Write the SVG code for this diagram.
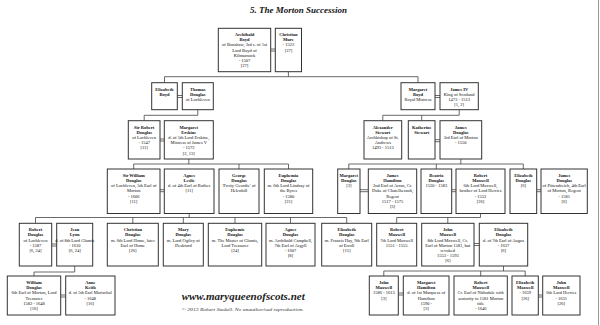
<svg xmlns="http://www.w3.org/2000/svg" width="600" height="325" viewBox="0 0 600 325">
<style>
.nd rect{fill:#fff;stroke:#333;stroke-width:1}
text{font-family:"Liberation Serif","Times New Roman",serif;font-size:4.5px;text-anchor:middle;fill:#111}
.n{font-weight:bold}
.c path{fill:none;stroke:#444;stroke-width:0.8}
.title{font-size:9px;font-weight:bold;font-style:italic;text-anchor:start}
.web{font-size:11px;font-weight:bold;font-style:italic;text-anchor:start;fill:#222}
.copy{font-size:5px;font-style:italic;text-anchor:start;fill:#333}
</style>
<rect width="600" height="325" fill="#fff"/>
<line x1="598.5" y1="0" x2="598.5" y2="325" stroke="#999" stroke-width="1"/>
<text class="title" x="250" y="13">5.  The Morton Succession</text>

<g class="c">
<path d="M288.4 71.7V76.7M164.5 82.7V76.7H418V82.7"/>
<path d="M197.8 109.7V115.3H144.2V120.7"/>
<path d="M188.8 159V164M133.7 169V164H288.5V169M239 164V169"/>
<path d="M189.2 213.5V217.5M35.5 223.3V217.5H346.7V223.3M132.8 217.5V223.3M183.3 217.5V223.3M235 217.5V223.3M290.5 217.5V223.3"/>
<path d="M74.7 266V272H34V276"/>
<path d="M459.2 109.7V115.3H382.8V120.7M421.7 115.3V120.7"/>
<path d="M460.8 159V164M348.8 169V164H523.3V169M436.3 164V169"/>
<path d="M480.5 213.5V217.5H396.7V223.3M447.8 217.5V223.3"/>
<path d="M503.5 266V271M383.8 276V271H525.2V276M480.7 271V276"/>
<path d="M270.7 49H275.3M270.7 51H275.3"/>
<path d="M177.3 95.5H182.3M177.3 97.5H182.3"/>
<path d="M435 95.5H440M435 97.5H440"/>
<path d="M160 139H164.3M160 141H164.3"/>
<path d="M435 139.7H440M435 141.7H440"/>
<path d="M160 189.7H164.3M160 191.7H164.3"/>
<path d="M360 189.7H368.3M360 191.7H368.3"/>
<path d="M451.7 189.7H456M451.7 191.7H456"/>
<path d="M536.7 189.7H541M536.7 191.7H541"/>
<path d="M51.7 244H56.7M51.7 246H56.7"/>
<path d="M474 243.5H479.3M474 245.5H479.3"/>
<path d="M60.7 295H65.7M60.7 297H65.7"/>
<path d="M398.3 293H403.3M398.3 295H403.3"/>
<path d="M538.3 295H542.7M538.3 297H542.7"/>
</g>

<g id="archibald-boyd" class="nd"><rect x="218.3" y="28.3" width="52.4" height="43.4"/>
<text y="36"><tspan class="n" x="244.5">Archibald</tspan><tspan class="n" x="244.5" dy="5.2">Boyd</tspan><tspan x="244.5" dy="5.2">of Bonshaw, 3rd s. of 1st</tspan><tspan x="244.5" dy="5.2">Lord Boyd of</tspan><tspan x="244.5" dy="5.2">Kilmarnock</tspan><tspan x="244.5" dy="5.2">- 1507</tspan><tspan x="244.5" dy="5.2">[27]</tspan></text></g>
<g id="christian-mure" class="nd"><rect x="275.3" y="28.3" width="26.2" height="43.4"/>
<text y="36"><tspan class="n" x="288.4">Christian</tspan><tspan class="n" x="288.4" dy="5.2">Mure</tspan><tspan x="288.4" dy="5.2">- 1523</tspan><tspan x="288.4" dy="5.2">[27]</tspan></text></g>

<g id="elizabeth-boyd" class="nd"><rect x="151.7" y="82.7" width="25.6" height="27"/>
<text y="90.5"><tspan class="n" x="164.5">Elizabeth</tspan><tspan class="n" x="164.5" dy="5.2">Boyd</tspan></text></g>
<g id="thomas-douglas" class="nd"><rect x="182.3" y="82.7" width="31" height="27"/>
<text y="90.5"><tspan class="n" x="197.8">Thomas</tspan><tspan class="n" x="197.8" dy="5.2">Douglas</tspan><tspan x="197.8" dy="5.2">of Lochleven</tspan></text></g>
<g id="margaret-boyd" class="nd"><rect x="401" y="82.7" width="34" height="27"/>
<text y="90.5"><tspan class="n" x="418">Margaret</tspan><tspan class="n" x="418" dy="5.2">Boyd</tspan><tspan x="418" dy="5.2">Royal Mistress</tspan></text></g>
<g id="james-iv" class="nd"><rect x="440" y="82.7" width="38.3" height="27"/>
<text y="90.5"><tspan class="n" x="459.2">James IV</tspan><tspan x="459.2" dy="5.2">King of Scotland</tspan><tspan x="459.2" dy="5.2">1473 - 1513</tspan><tspan x="459.2" dy="5.2">[1, 2]</tspan></text></g>

<g id="sir-robert-douglas" class="nd"><rect x="128.3" y="120.7" width="31.7" height="38.3"/>
<text y="128.6"><tspan class="n" x="144.2">Sir Robert</tspan><tspan class="n" x="144.2" dy="5.2">Douglas</tspan><tspan x="144.2" dy="5.2">of Lochleven</tspan><tspan x="144.2" dy="5.2">- 1547</tspan><tspan x="144.2" dy="5.2">[11]</tspan></text></g>
<g id="margaret-erskine" class="nd"><rect x="164.3" y="120.7" width="49" height="38.3"/>
<text y="128.6"><tspan class="n" x="188.8">Margaret</tspan><tspan class="n" x="188.8" dy="5.2">Erskine</tspan><tspan x="188.8" dy="5.2">d. of 5th Lord Erskine,</tspan><tspan x="188.8" dy="5.2">Mistress of James V</tspan><tspan x="188.8" dy="5.2">- 1572</tspan><tspan x="188.8" dy="5.2">[2, 13]</tspan></text></g>
<g id="alexander-stewart" class="nd"><rect x="364" y="120.7" width="37.7" height="38.3"/>
<text y="128.6"><tspan class="n" x="382.8">Alexander</tspan><tspan class="n" x="382.8" dy="5.2">Stewart</tspan><tspan x="382.8" dy="5.2">Archbishop of St.</tspan><tspan x="382.8" dy="5.2">Andrews</tspan><tspan x="382.8" dy="5.2">1493 - 1513</tspan></text></g>
<g id="katherine-stewart" class="nd"><rect x="408.3" y="120.7" width="26.7" height="38.3"/>
<text y="128.6"><tspan class="n" x="421.7">Katherine</tspan><tspan class="n" x="421.7" dy="5.2">Stewart</tspan></text></g>
<g id="james-douglas-3" class="nd"><rect x="440" y="120.7" width="41.7" height="38.3"/>
<text y="128.6"><tspan class="n" x="460.8">James</tspan><tspan class="n" x="460.8" dy="5.2">Douglas</tspan><tspan x="460.8" dy="5.2">3rd Earl of Morton</tspan><tspan x="460.8" dy="5.2">- 1550</tspan></text></g>

<g id="sir-william-douglas" class="nd"><rect x="107.3" y="169" width="52.7" height="44.5"/>
<text y="176.8"><tspan class="n" x="133.7">Sir William</tspan><tspan class="n" x="133.7" dy="5.2">Douglas</tspan><tspan x="133.7" dy="5.2">of Lochleven, 5th Earl of</tspan><tspan x="133.7" dy="5.2">Morton</tspan><tspan x="133.7" dy="5.2">- 1606</tspan><tspan x="133.7" dy="5.2">[11]</tspan></text></g>
<g id="agnes-leslie" class="nd"><rect x="164.3" y="169" width="49.7" height="44.5"/>
<text y="176.8"><tspan class="n" x="189.2">Agnes</tspan><tspan class="n" x="189.2" dy="5.2">Leslie</tspan><tspan x="189.2" dy="5.2">d. of 4th Earl of Rothes</tspan><tspan x="189.2" dy="5.2">[11]</tspan></text></g>
<g id="george-douglas" class="nd"><rect x="219" y="169" width="40" height="44.5"/>
<text y="176.8"><tspan class="n" x="239">George</tspan><tspan class="n" x="239" dy="5.2">Douglas</tspan><tspan x="239" dy="5.2">'Pretty Geordie' of</tspan><tspan x="239" dy="5.2">Helenhill</tspan></text></g>
<g id="euphemia-douglas" class="nd"><rect x="264.3" y="169" width="48.4" height="44.5"/>
<text y="176.8"><tspan class="n" x="288.5">Euphemia</tspan><tspan class="n" x="288.5" dy="5.2">Douglas</tspan><tspan x="288.5" dy="5.2">m. 6th Lord Lindsay of</tspan><tspan x="288.5" dy="5.2">the Byres</tspan><tspan x="288.5" dy="5.2">- 1580</tspan><tspan x="288.5" dy="5.2">[21]</tspan></text></g>
<g id="margaret-douglas" class="nd"><rect x="337.7" y="169" width="22.3" height="44.5"/>
<text y="176.8"><tspan class="n" x="348.8">Margaret</tspan><tspan class="n" x="348.8" dy="5.2">Douglas</tspan><tspan x="348.8" dy="5.2">[3]</tspan></text></g>
<g id="james-hamilton" class="nd"><rect x="368.3" y="169" width="48.4" height="44.5"/>
<text y="176.8"><tspan class="n" x="392.5">James</tspan><tspan class="n" x="392.5" dy="5.2">Hamilton</tspan><tspan x="392.5" dy="5.2">2nd Earl of Arran, Cr.</tspan><tspan x="392.5" dy="5.2">Duke of Chatelherault,</tspan><tspan x="392.5" dy="5.2">Regent</tspan><tspan x="392.5" dy="5.2">1517 - 1575</tspan><tspan x="392.5" dy="5.2">[3]</tspan></text></g>
<g id="beatrix-douglas" class="nd"><rect x="421" y="169" width="30.7" height="44.5"/>
<text y="176.8"><tspan class="n" x="436.3">Beatrix</tspan><tspan class="n" x="436.3" dy="5.2">Douglas</tspan><tspan x="436.3" dy="5.2">1520 - 1583</tspan></text></g>
<g id="robert-maxwell-6" class="nd"><rect x="456" y="169" width="49" height="44.5"/>
<text y="176.8"><tspan class="n" x="480.5">Robert</tspan><tspan class="n" x="480.5" dy="5.2">Maxwell</tspan><tspan x="480.5" dy="5.2">6th Lord Maxwell,</tspan><tspan x="480.5" dy="5.2">brother of Lord Herries</tspan><tspan x="480.5" dy="5.2">- 1552</tspan><tspan x="480.5" dy="5.2">[26]</tspan></text></g>
<g id="elizabeth-douglas-1" class="nd"><rect x="510" y="169" width="26.7" height="44.5"/>
<text y="176.8"><tspan class="n" x="523.3">Elizabeth</tspan><tspan class="n" x="523.3" dy="5.2">Douglas</tspan><tspan x="523.3" dy="5.2">[6]</tspan></text></g>
<g id="james-douglas-4" class="nd"><rect x="541" y="169" width="46.3" height="44.5"/>
<text y="176.8"><tspan class="n" x="564.2">James</tspan><tspan class="n" x="564.2" dy="5.2">Douglas</tspan><tspan x="564.2" dy="5.2">of Pittendreich, 4th Earl</tspan><tspan x="564.2" dy="5.2">of Morton, Regent</tspan><tspan x="564.2" dy="5.2">- 1581</tspan><tspan x="564.2" dy="5.2">[6]</tspan></text></g>

<g id="robert-douglas" class="nd"><rect x="19.3" y="223.3" width="32.4" height="42.7"/>
<text y="231.2"><tspan class="n" x="35.5">Robert</tspan><tspan class="n" x="35.5" dy="5.2">Douglas</tspan><tspan x="35.5" dy="5.2">of Lochleven</tspan><tspan x="35.5" dy="5.2">- 1587</tspan><tspan x="35.5" dy="5.2">[6, 24]</tspan></text></g>
<g id="jean-lyon" class="nd"><rect x="56.7" y="223.3" width="36" height="42.7"/>
<text y="231.2"><tspan class="n" x="74.7">Jean</tspan><tspan class="n" x="74.7" dy="5.2">Lyon</tspan><tspan x="74.7" dy="5.2">d. of 8th Lord Glamis</tspan><tspan x="74.7" dy="5.2">- 1610</tspan><tspan x="74.7" dy="5.2">[6, 24]</tspan></text></g>
<g id="christian-douglas" class="nd"><rect x="107.3" y="223.3" width="51" height="42.7"/>
<text y="231.2"><tspan class="n" x="132.8">Christian</tspan><tspan class="n" x="132.8" dy="5.2">Douglas</tspan><tspan x="132.8" dy="5.2">m. 6th Lord Home, later</tspan><tspan x="132.8" dy="5.2">Earl of Home</tspan><tspan x="132.8" dy="5.2">[26]</tspan></text></g>
<g id="mary-douglas" class="nd"><rect x="163.3" y="223.3" width="40" height="42.7"/>
<text y="231.2"><tspan class="n" x="183.3">Mary</tspan><tspan class="n" x="183.3" dy="5.2">Douglas</tspan><tspan x="183.3" dy="5.2">m. Lord Ogilvy of</tspan><tspan x="183.3" dy="5.2">Deskford</tspan></text></g>
<g id="euphemie-douglas" class="nd"><rect x="208.3" y="223.3" width="53.4" height="42.7"/>
<text y="231.2"><tspan class="n" x="235">Euphemie</tspan><tspan class="n" x="235" dy="5.2">Douglas</tspan><tspan x="235" dy="5.2">m. The Master of Glamis,</tspan><tspan x="235" dy="5.2">Lord Treasurer</tspan><tspan x="235" dy="5.2">[24]</tspan></text></g>
<g id="agnes-douglas" class="nd"><rect x="266" y="223.3" width="49" height="42.7"/>
<text y="231.2"><tspan class="n" x="290.5">Agnes</tspan><tspan class="n" x="290.5" dy="5.2">Douglas</tspan><tspan x="290.5" dy="5.2">m. Archibald Campbell,</tspan><tspan x="290.5" dy="5.2">7th Earl of Argyll</tspan><tspan x="290.5" dy="5.2">- 1607</tspan><tspan x="290.5" dy="5.2">[8]</tspan></text></g>
<g id="elizabeth-douglas-2" class="nd"><rect x="321.7" y="223.3" width="50" height="42.7"/>
<text y="231.2"><tspan class="n" x="346.7">Elizabeth</tspan><tspan class="n" x="346.7" dy="5.2">Douglas</tspan><tspan x="346.7" dy="5.2">m. Francis Hay, 9th Earl</tspan><tspan x="346.7" dy="5.2">of Erroll</tspan><tspan x="346.7" dy="5.2">[15]</tspan></text></g>
<g id="robert-maxwell-7" class="nd"><rect x="376.7" y="223.3" width="40" height="42.7"/>
<text y="231.2"><tspan class="n" x="396.7">Robert</tspan><tspan class="n" x="396.7" dy="5.2">Maxwell</tspan><tspan x="396.7" dy="5.2">7th Lord Maxwell</tspan><tspan x="396.7" dy="5.2">1551 - 1555</tspan></text></g>
<g id="john-maxwell-8" class="nd"><rect x="421.7" y="223.3" width="52.3" height="42.7"/>
<text y="231.2"><tspan class="n" x="447.8">John</tspan><tspan class="n" x="447.8" dy="5.2">Maxwell</tspan><tspan x="447.8" dy="5.2">8th Lord Maxwell, Cr.</tspan><tspan x="447.8" dy="5.2">Earl of Morton 1581, but</tspan><tspan x="447.8" dy="5.2">revoked</tspan><tspan x="447.8" dy="5.2">1553 - 1593</tspan><tspan x="447.8" dy="5.2">[6]</tspan></text></g>
<g id="elizabeth-douglas-3" class="nd"><rect x="479.3" y="223.3" width="48.4" height="42.7"/>
<text y="231.2"><tspan class="n" x="503.5">Elizabeth</tspan><tspan class="n" x="503.5" dy="5.2">Douglas</tspan><tspan x="503.5" dy="5.2">d. of 7th Earl of Angus</tspan><tspan x="503.5" dy="5.2">- 1637</tspan><tspan x="503.5" dy="5.2">[6]</tspan></text></g>

<g id="william-douglas" class="nd"><rect x="7.3" y="276" width="53.4" height="39"/>
<text y="284"><tspan class="n" x="34">William</tspan><tspan class="n" x="34" dy="5.2">Douglas</tspan><tspan x="34" dy="5.2">6th Earl of Morton, Lord</tspan><tspan x="34" dy="5.2">Treasurer</tspan><tspan x="34" dy="5.2">1582 - 1648</tspan><tspan x="34" dy="5.2">[16]</tspan></text></g>
<g id="anne-keith" class="nd"><rect x="65.7" y="276" width="49.3" height="39"/>
<text y="284"><tspan class="n" x="90.3">Anne</tspan><tspan class="n" x="90.3" dy="5.2">Keith</tspan><tspan x="90.3" dy="5.2">d. of 5th Earl Marischal</tspan><tspan x="90.3" dy="5.2">- 1648</tspan><tspan x="90.3" dy="5.2">[16]</tspan></text></g>
<g id="john-maxwell" class="nd"><rect x="369.3" y="276" width="29" height="39"/>
<text y="284"><tspan class="n" x="383.8">John</tspan><tspan class="n" x="383.8" dy="5.2">Maxwell</tspan><tspan x="383.8" dy="5.2">1586 - 1613</tspan><tspan x="383.8" dy="5.2">[3]</tspan></text></g>
<g id="margaret-hamilton" class="nd"><rect x="403.3" y="276" width="45.7" height="39"/>
<text y="284"><tspan class="n" x="426.2">Margaret</tspan><tspan class="n" x="426.2" dy="5.2">Hamilton</tspan><tspan x="426.2" dy="5.2">d. of 1st Marquess of</tspan><tspan x="426.2" dy="5.2">Hamilton</tspan><tspan x="426.2" dy="5.2">1590 -</tspan><tspan x="426.2" dy="5.2">[3]</tspan></text></g>
<g id="robert-maxwell-nithsdale" class="nd"><rect x="454" y="276" width="53.3" height="39"/>
<text y="284"><tspan class="n" x="480.7">Robert</tspan><tspan class="n" x="480.7" dy="5.2">Maxwell</tspan><tspan x="480.7" dy="5.2">Cr. Earl of Nithsdale with</tspan><tspan x="480.7" dy="5.2">seniority to 1581 Morton</tspan><tspan x="480.7" dy="5.2">title</tspan><tspan x="480.7" dy="5.2">- 1646</tspan></text></g>
<g id="elizabeth-maxwell" class="nd"><rect x="512" y="276" width="26.3" height="39"/>
<text y="284"><tspan class="n" x="525.2">Elizabeth</tspan><tspan class="n" x="525.2" dy="5.2">Maxwell</tspan><tspan x="525.2" dy="5.2">- 1659</tspan><tspan x="525.2" dy="5.2">[26]</tspan></text></g>
<g id="john-maxwell-herries" class="nd"><rect x="542.7" y="276" width="37.3" height="39"/>
<text y="284"><tspan class="n" x="561.3">John</tspan><tspan class="n" x="561.3" dy="5.2">Maxwell</tspan><tspan x="561.3" dy="5.2">6th Lord Herries</tspan><tspan x="561.3" dy="5.2">- 1631</tspan><tspan x="561.3" dy="5.2">[26]</tspan></text></g>

<text class="web" x="181.7" y="300" textLength="123" lengthAdjust="spacingAndGlyphs">www.maryqueenofscots.net</text>
<text class="copy" x="181.7" y="311" textLength="122" lengthAdjust="spacingAndGlyphs">© 2013 Robert Stedall. No unauthorised reproduction.</text>
</svg>
